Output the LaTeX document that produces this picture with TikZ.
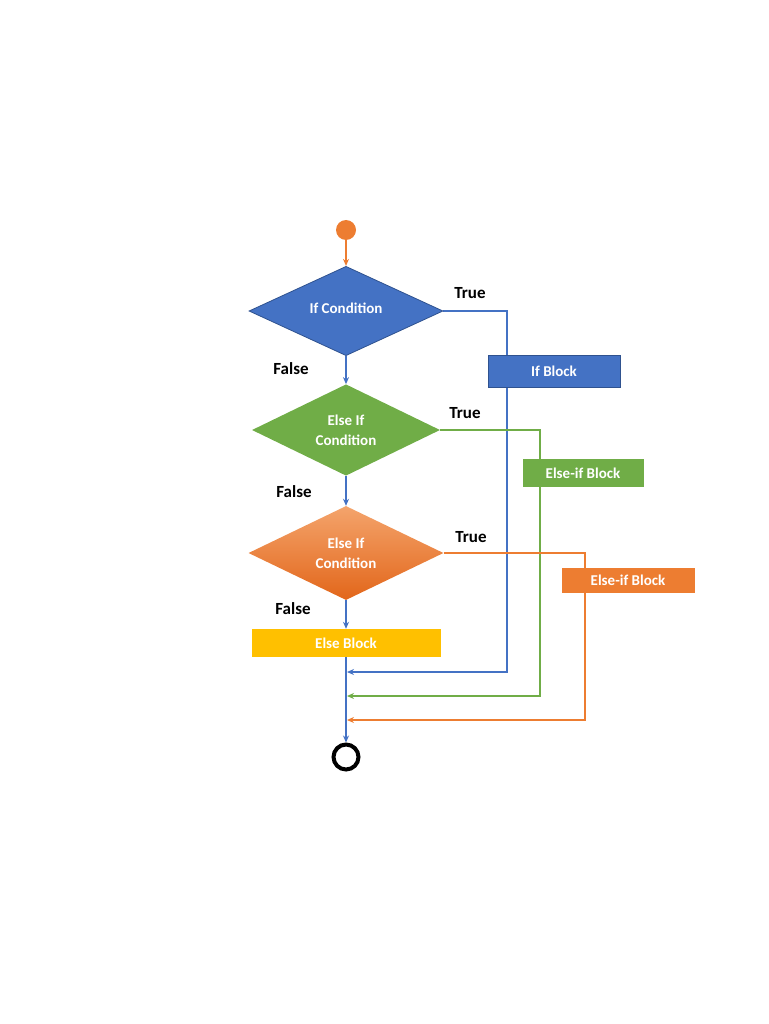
\documentclass[tikz,border=0pt]{standalone}
\usepackage{fontspec}
\setmainfont{Carlito}
\usetikzlibrary{shapes.geometric,arrows.meta,backgrounds}
\definecolor{ifblue}{HTML}{4472C4}
\definecolor{ifedge}{HTML}{2F528F}
\definecolor{elgreen}{HTML}{70AD47}
\definecolor{elorange}{HTML}{ED7D31}
\definecolor{ortop}{HTML}{F4A46C}
\definecolor{orbot}{HTML}{E2661A}
\definecolor{elyellow}{HTML}{FFC000}
\begin{document}
\begin{tikzpicture}[x=1pt,y=-1pt,
  cond/.style={diamond, inner sep=0pt, text=white, align=center, font=\fontsize{15}{20}\selectfont\bfseries},
  blockbox/.style={rectangle, inner sep=0pt, text=white, font=\fontsize{15}{18}\selectfont\bfseries},
  lbl/.style={font=\fontsize{17}{20}\selectfont\bfseries},
  flow/.style={line width=1.8pt, -{Stealth[length=7pt,width=6pt]}}]
\useasboundingbox (0,0) rectangle (768,1024);
\node[circle, fill=elorange, minimum size=20pt, inner sep=0pt] (start) at (346,230) {};
\node[cond, fill=ifblue, draw=ifedge, line width=0.8pt, minimum width=194pt, minimum height=87pt] (c1) at (346,311) {\raisebox{6pt}{If Condition}};
\node[cond, fill=elgreen, minimum width=188pt, minimum height=89pt] (c2) at (346,430) {Else If\\Condition};
\node[cond, top color=ortop, bottom color=orbot, minimum width=195pt, minimum height=94pt] (c3) at (346,553) {Else If\\Condition};
\node[blockbox, fill=elyellow, minimum width=189pt, minimum height=28pt] (elseb) at (346,643) {Else Block};
\node[blockbox, fill=ifblue, draw=ifedge, line width=1pt, minimum width=132pt, minimum height=32pt] (ifb) at (554,371) {If Block};
\node[blockbox, fill=elgreen, minimum width=121pt, minimum height=28pt] (eib1) at (583,473) {Else-if Block};
\node[blockbox, fill=elorange, minimum width=133pt, minimum height=25pt] (eib2) at (628,580) {Else-if Block};
\node[circle, draw=black, line width=4pt, minimum size=25pt, inner sep=0pt] (stop) at (346,757) {};
\node[lbl] (t1) at (470,293) {True};
\node[lbl] (f1) at (291,369) {False};
\node[lbl] (t2) at (465,413) {True};
\node[lbl] (f2) at (294,492) {False};
\node[lbl] (t3) at (471,537) {True};
\node[lbl] (f3) at (293,609) {False};
\coordinate (j1) at (507,672);
\coordinate (m1) at (347,672);
\coordinate (j2) at (540,696);
\coordinate (m2) at (347,696);
\coordinate (j3) at (585,720);
\coordinate (m3) at (347,720);
\draw[flow, elorange] (start) -- (c1.north);
\draw[flow, ifblue] (c1.south) -- (c2.north);
\draw[flow, ifblue] (c2.south) -- (c3.north);
\draw[flow, ifblue] (c3.south) -- (elseb.north);
\draw[flow, ifblue] (elseb.south) -- (stop.north);
\begin{scope}[on background layer]
\draw[flow, ifblue] (c1.east) -| (j1) -- (m1);
\draw[flow, elgreen] (c2.east) -| (j2) -- (m2);
\draw[flow, elorange] (c3.east) -| (j3) -- (m3);
\end{scope}
\end{tikzpicture}
\end{document}
